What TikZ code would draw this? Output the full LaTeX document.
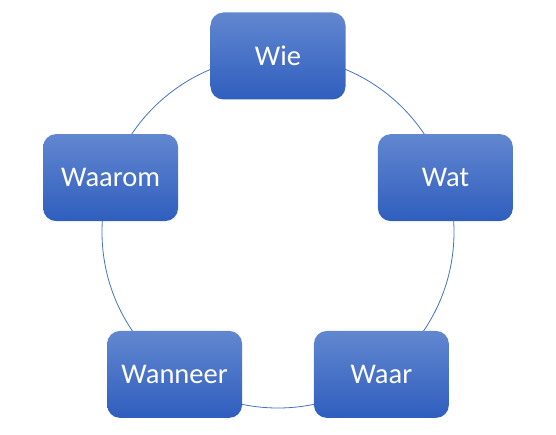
\documentclass[tikz,border=0pt]{standalone}
\usepackage{fontspec}
\setmainfont{Carlito}
\usepackage{tikz}
\usetikzlibrary{positioning}
\definecolor{boxtop}{RGB}{98,135,208}
\definecolor{boxbot}{RGB}{47,94,190}
\definecolor{ringblue}{RGB}{68,114,196}

\begin{document}
\begin{tikzpicture}[x=1pt, y=1pt]
   \useasboundingbox (-278,-202) rectangle (278,232);
   \coordinate (c) at (0,0);
   \draw [ringblue, line width=0.8pt] (c) circle [radius=176];
   \begin{scope}[every node/.style={rectangle, rounded corners=13pt, minimum width=135pt, minimum height=87pt, inner sep=0pt, top color=boxtop, bottom color=boxbot, text=white, font=\fontsize{28.5}{34}\selectfont}]
    \node (wie) at (0,176) {Wie};
    \node (wat) at (167.4,54.4) {Wat};
    \node (waar) at (103.4,-142.4) {Waar};
    \node (wanneer) at (-103.4,-142.4) {Wanneer};
    \node (waarom) at (-167.4,54.4) {Waarom};
   \end{scope}
\end{tikzpicture}
\end{document}
